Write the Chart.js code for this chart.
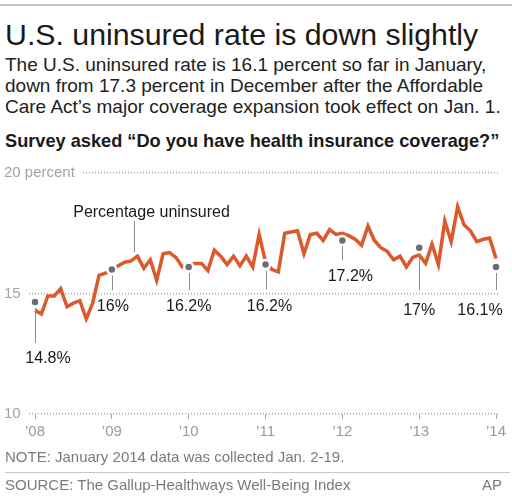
<!DOCTYPE html>
<html>
<head>
<meta charset="utf-8">
<script src="https://cdn.jsdelivr.net/npm/chart.js@4.4.1/dist/chart.umd.min.js"></script>
<style>
  body { margin:0; width:512px; height:498px; background:#fff; position:relative; overflow:hidden;
         font-family:'Liberation Sans', Arial, Helvetica, sans-serif; }
  .abs { position:absolute; white-space:nowrap; }
  #topRule { left:0; top:4px; width:512px; height:2px; background:#c4c4c4; }
  #title { left:5px; top:20px; font-size:30.3px; line-height:30px; color:#1a1a1a; }
  #dek { left:5px; top:55px; font-size:19px; line-height:20.8px; color:#222; }
  #ask { left:5px; top:132px; font-size:18.2px; line-height:18px; font-weight:bold; color:#1a1a1a; }
  #note { left:5px; top:449px; font-size:15px; line-height:15px; color:#7a7a7a; }
  #rule2 { left:5px; top:472px; width:505px; height:1px; background:#c8c8c8; }
  #source { left:5px; top:477px; font-size:15px; line-height:15px; color:#7a7a7a; }
  #ap { right:10px; top:477px; font-size:15px; line-height:15px; color:#7a7a7a; }
  #wrap { left:0; top:160px; width:512px; height:290px; }
  canvas { display:block; }
</style>
</head>
<body>
<div class="abs" id="topRule"></div>
<div class="abs" id="title">U.S. uninsured rate is down slightly</div>
<div class="abs" id="dek">The U.S. uninsured rate is 16.1 percent so far in January,<br>down from 17.3 percent in December after the Affordable<br>Care Act’s major coverage expansion took effect on Jan. 1.</div>
<div class="abs" id="ask">Survey asked “Do you have health insurance coverage?”</div>
<div class="abs" id="wrap"><canvas id="chart" width="512" height="290"></canvas></div>
<div class="abs" id="note">NOTE: January 2014 data was collected Jan. 2-19.</div>
<div class="abs" id="rule2"></div>
<div class="abs" id="source">SOURCE: The Gallup-Healthways Well-Being Index</div>
<div class="abs" id="ap">AP</div>

<script>
/* uninsured rate, monthly, Jan 2008 .. Jan 2014 (index = months since Jan 2008) */
const rates = [
  14.3, 14.15, 14.9, 14.9, 15.2, 14.45, 14.6, 14.7, 13.95, 14.6, 15.75, 15.85,   // 2008
  15.95, 16.15, 16.3, 16.35, 16.55, 16.05, 16.4, 15.55, 16.65, 16.7, 16.5, 16.1, // 2009
  16.2, 16.25, 16.25, 15.95, 16.8, 16.55, 16.2, 16.55, 16.15, 16.55, 16.1, 17.45,// 2010
  16.3, 16.0, 15.9, 17.5, 17.55, 17.6, 16.65, 17.45, 17.5, 17.2, 17.65, 17.45,   // 2011
  17.5, 17.4, 17.25, 17.0, 17.8, 17.2, 16.9, 16.75, 16.4, 16.55, 16.1, 16.5,     // 2012
  16.6, 16.25, 17.05, 16.2, 18.0, 17.15, 18.6, 17.85, 17.6, 17.15, 17.25, 17.3,  // 2013
  16.45                                                                          // Jan 2014
];

// January markers
const dotMonths = [0, 12, 24, 36, 48, 60, 72];
const dotValues = [14.65, 16.0, 16.1, 16.2, 17.2, 16.9, 16.1];
const dotLabels = ['14.8%', '16%', '16.2%', '16.2%', '17.2%', '17%', '16.1%'];

const yearTicks = [0, 12, 24, 36, 48, 60, 72];
const yearLabels = ['’08', '’09', '’10', '’11', '’12', '’13', '’14'];
const yTicks = [10, 15, 20];
const yTickLabels = ['10', '15', '20 percent'];
const seriesName = 'Percentage uninsured';

const FONT = '"Liberation Sans", Arial, Helvetica, sans-serif';

// callout placement: [leader length below dot, label dx, label dy]
const calloutLayout = [
  [41, 13, 57],
  [21, 1, 37],
  [23, 0, 40],
  [25, 4, 42],
  [20, 8, 36],
  [42, 0, 63],
  [23, -16, 44]
];

// dotted horizontal gridlines that start after each tick label (behind the line)
const dottedGrid = {
  id: 'dottedGrid',
  beforeDatasetsDraw(chart) {
    const { ctx, chartArea, scales: { y } } = chart;
    ctx.save();
    ctx.font = '15px ' + FONT;
    ctx.fillStyle = 'rgba(150,150,150,0.8)';
    for (let i = 0; i < yTicks.length; i++) {
      const py = Math.round(y.getPixelForValue(yTicks[i]));
      const start = Math.round(chartArea.left + 4 + ctx.measureText(yTickLabels[i]).width + 8);
      for (let px = start; px < chartArea.right; px += 3) {
        ctx.fillRect(px, py - 1, 1, 1.5);
      }
    }
    ctx.restore();
  }
};

const callouts = {
  id: 'callouts',
  afterDatasetsDraw(chart) {
    const { ctx, scales: { x, y } } = chart;
    ctx.save();
    ctx.font = '16px ' + FONT;
    ctx.textBaseline = 'middle';
    ctx.textAlign = 'center';
    ctx.lineWidth = 1;
    dotMonths.forEach((m, i) => {
      const px = x.getPixelForValue(m);
      const py = y.getPixelForValue(dotValues[i]);
      const [lead, dx, dy] = calloutLayout[i];
      const lx = Math.round(px) + 0.5;
      ctx.strokeStyle = '#8c8c8c';
      ctx.beginPath(); ctx.moveTo(lx, py + 6); ctx.lineTo(lx, py + lead); ctx.stroke();
      ctx.fillStyle = '#1a1a1a';
      ctx.fillText(dotLabels[i], px + dx, py + dy);
    });
    // series name with leader to the mid-2009 peak
    const sx = Math.round(x.getPixelForValue(15.5)) + 0.5;
    const sy = y.getPixelForValue(rates[16]) - 4;
    ctx.strokeStyle = '#8c8c8c';
    ctx.beginPath(); ctx.moveTo(sx, sy); ctx.lineTo(sx, sy - 31); ctx.stroke();
    ctx.fillStyle = '#1a1a1a';
    ctx.fillText(seriesName, sx + 17, sy - 40);
    ctx.restore();
  }
};

new Chart(document.getElementById('chart'), {
  type: 'line',
  data: {
    datasets: [
      {
        type: 'scatter',
        data: dotMonths.map((m, i) => ({ x: m, y: dotValues[i] })),
        pointRadius: 4.5,
        pointBackgroundColor: '#6b6d70',
        pointBorderColor: '#ffffff',
        pointBorderWidth: 2.5,
        showLine: false
      },
      {
        data: rates.map((v, i) => ({ x: i, y: v })),
        borderColor: '#dc592c',
        borderWidth: 3.5,
        pointRadius: 0,
        tension: 0,
        fill: false
      }
    ]
  },
  options: {
    responsive: false,
    animation: false,
    layout: { autoPadding: false, padding: { left: 0, right: 12, top: 13, bottom: 0 } },
    plugins: { legend: { display: false }, tooltip: { enabled: false } },
    scales: {
      x: {
        type: 'linear',
        min: -5.47,
        max: 72.62,
        afterBuildTicks: s => { s.ticks = yearTicks.map(v => ({ value: v })); },
        afterFit: s => { s.height = 36; s.paddingLeft = 0; s.paddingRight = 0; },
        border: { display: false },
        grid: { drawOnChartArea: false, drawTicks: true, tickLength: 5, color: '#aaaaaa' },
        ticks: {
          autoSkip: false, maxRotation: 0, padding: 4,
          color: '#999999', font: { family: FONT, size: 15 },
          callback: (v, i) => yearLabels[i]
        }
      },
      y: {
        min: 10,
        max: 20,
        afterBuildTicks: s => { s.ticks = yTicks.map(v => ({ value: v })); },
        afterFit: s => { s.width = 0; },
        border: { display: false },
        grid: { display: false },
        ticks: {
          mirror: true, padding: 4,
          color: '#a3a3a3', font: { family: FONT, size: 15 },
          callback: (v, i) => yTickLabels[i]
        }
      }
    }
  },
  plugins: [dottedGrid, callouts]
});
</script>
</body>
</html>
